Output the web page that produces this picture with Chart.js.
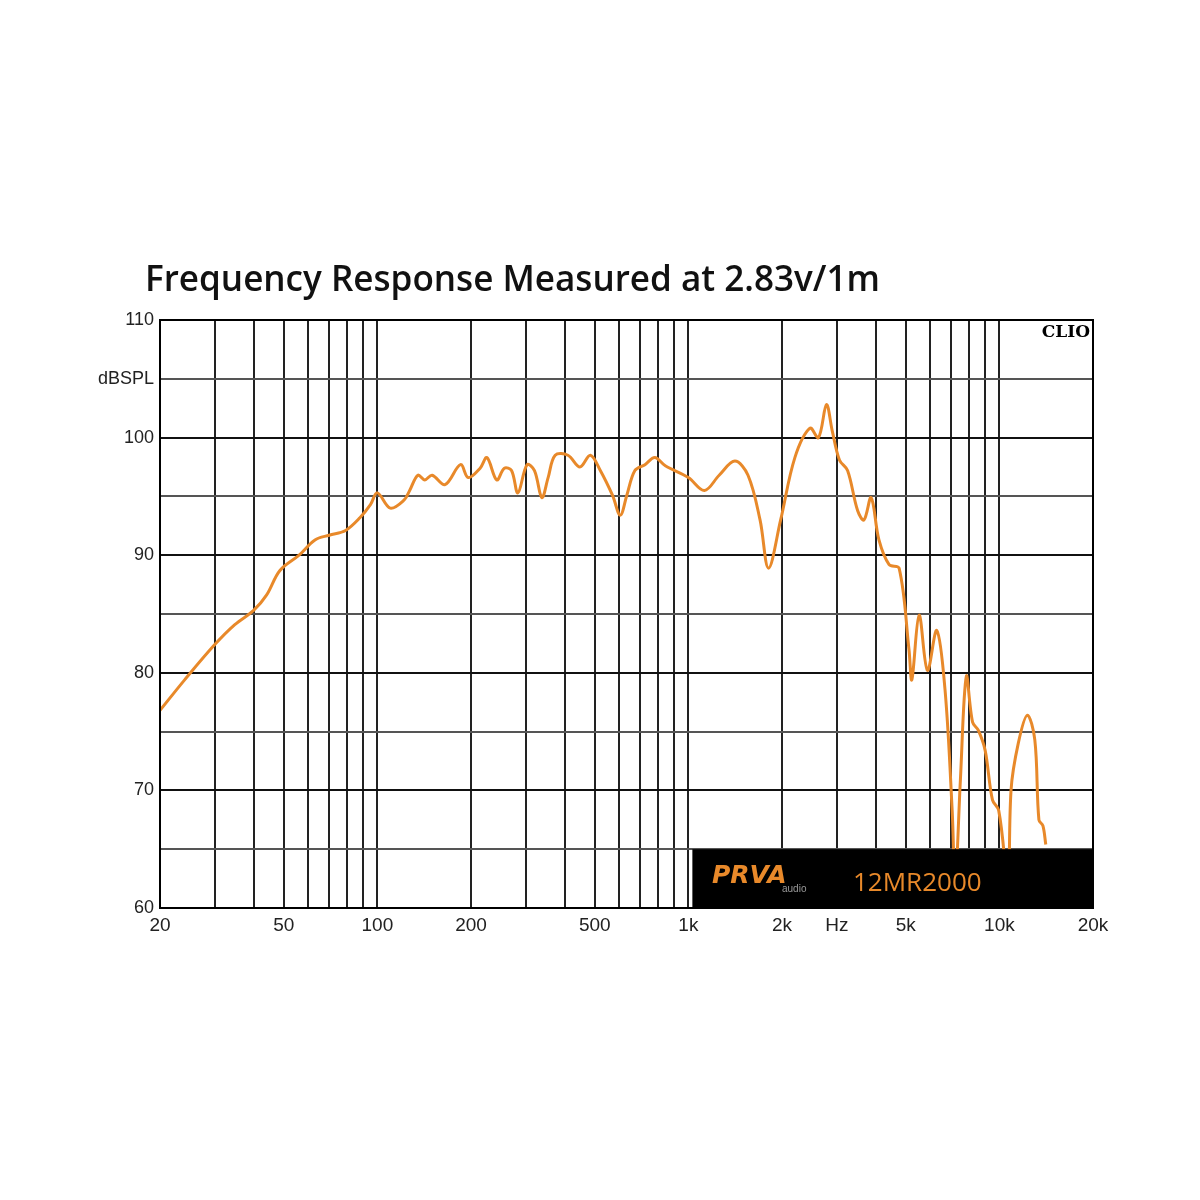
<!DOCTYPE html>
<html><head><meta charset="utf-8">
<script src="https://cdn.jsdelivr.net/npm/chart.js@4"></script>
<style>html,body{margin:0;background:#fff}#c{display:block}</style>
</head><body>
<div style="width:1200px;height:1200px"><canvas id="c"></canvas></div>
<script>
const freqs=[20,24,30,34.8,40,44,48.6,56,63,70,79,88,95,100,110,122,127,135,142,150,165,185,196,214,225,242,256,270,283,303,320,338,354,373,410,448,484,521,570,604,634,673,725,780,843,1000,1126,1256,1411,1555,1700,1810,1980,2200,2460,2620,2780,2900,3060,3250,3500,3670,3870,4100,4420,4760,5120,5230,5520,5870,6290,6690,7050,7210,7490,7830,8200,8560,9000,9500,9950,10500,10700,10900,11500,12300,13000,13400,13800,14100];
const spl=[76.8,79.4,82.4,84.1,85.3,86.6,88.7,90,91.3,91.7,92.1,93.2,94.3,95.3,94,94.7,95.5,96.8,96.4,96.8,96,97.7,96.6,97.4,98.3,96.4,97.4,97.2,95.3,97.7,97.2,94.9,96.6,98.5,98.5,97.5,98.5,97.2,95.1,93.4,95.1,97.2,97.7,98.3,97.6,96.6,95.5,96.8,98,96.8,93,88.9,93,98.3,100.8,100,102.8,100.6,98.1,97.2,93.8,93,94.9,91.3,89.2,88.9,82,79.4,84.9,80.2,83.6,78.5,68.3,62,70.8,79.7,75.8,75.1,73.4,69.2,68.3,63,60.5,70,74,76.4,74.3,67.5,67,65.4];
const xGrid=[20,30,40,50,60,70,80,90,100,200,300,400,500,600,700,800,900,1000,2000,3000,4000,5000,6000,7000,8000,9000,10000,20000];
const xLabels={20:'20',50:'50',100:'100',200:'200',500:'500',1000:'1k',2000:'2k',3000:'Hz',5000:'5k',10000:'10k',20000:'20k'};
const yTicks=[60,65,70,75,80,85,90,95,100,105,110];
const yLabels={60:'60',70:'70',80:'80',90:'90',100:'100',105:'dBSPL',110:'110'};
const title='Frequency Response Measured at 2.83v/1m';
const model='12MR2000';

const deco={id:'deco',
 beforeDraw(c){const x=c.ctx;x.save();x.fillStyle='#111';x.font='600 36px "Open Sans", sans-serif';x.textBaseline='alphabetic';
  const w=x.measureText(title).width;x.translate(145,291);x.scale(735/w,1);x.fillText(title,0,0);x.restore();},
 afterDatasetsDraw(c){const x=c.ctx,a=c.chartArea;x.save();
  const bx=c.scales.x.getPixelForValue(1030),by=c.scales.y.getPixelForValue(65);
  x.fillStyle='#000';x.fillRect(bx,by,a.right-bx,a.bottom-by);
  x.fillStyle='#e8892a';x.font='italic bold 25px "DejaVu Sans", sans-serif';x.fillText('PRVA',712,883);
  x.fillStyle='#999';x.font='10px sans-serif';x.fillText('audio',782,892);
  x.fillStyle='#e8892a';x.font='26px "Open Sans", sans-serif';x.fillText(model,853,891);
  x.strokeStyle='#000';x.lineWidth=2;x.strokeRect(a.left,a.top,a.right-a.left,a.bottom-a.top);
  x.fillStyle='#000';x.font='bold 17px "DejaVu Serif", serif';x.textAlign='right';x.fillText('CLIO',a.right-3,a.top+17);
  x.restore();}};

new Chart(document.getElementById('c'),{type:'line',
 data:{datasets:[{data:freqs.map((f,i)=>({x:f,y:spl[i]})),borderColor:'#e8892a',borderWidth:3,pointRadius:0,tension:0.35,fill:false}]},
 options:{responsive:true,maintainAspectRatio:false,animation:false,
  layout:{padding:{top:320,right:107,bottom:252,left:0}},
  plugins:{legend:{display:false},tooltip:{enabled:false}},
  scales:{
   x:{type:'logarithmic',min:20,max:20000,afterBuildTicks(s){s.ticks=xGrid.map(v=>({value:v}));},
     afterFit(s){s.height=40;},
     grid:{color:'#222',lineWidth:2,drawTicks:false},border:{display:false},
     ticks:{autoSkip:false,maxRotation:0,padding:6,color:'#222',font:{size:19,family:'"Liberation Sans", Arial'},callback:v=>xLabels[v]||''}},
   y:{min:60,max:110,afterBuildTicks(s){s.ticks=yTicks.map(v=>({value:v}));},
     afterFit(s){s.width=160;},
     grid:{color:c=>(c.tick&&c.tick.value%10===0)?'#111':'#555',lineWidth:2,drawTicks:false},border:{display:false},
     ticks:{padding:6,color:'#222',font:{size:18,family:'"Liberation Sans", Arial'},callback:v=>yLabels[v]||''}}}},
 plugins:[deco]});
</script></body></html>
